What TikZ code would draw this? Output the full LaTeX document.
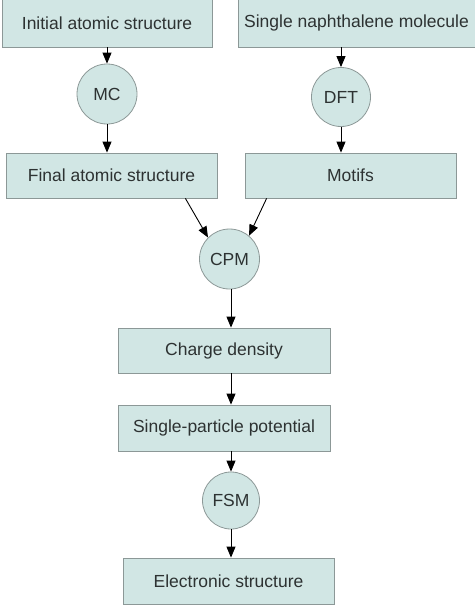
\documentclass[tikz,border=0pt]{standalone}
\usepackage{fontspec}
\setmainfont{Liberation Sans}
\usepackage{tikz}
\usetikzlibrary{arrows.meta}
\definecolor{boxfill}{RGB}{209,230,228}
\definecolor{boxline}{RGB}{140,152,151}
\definecolor{txt}{RGB}{45,50,50}

\begin{document}
\begin{tikzpicture}[x = 1pt, y = -1pt,
                        font = \fontsize{17.5}{20}\selectfont,
                        stepbox/.style = {rectangle, draw = boxline, fill = boxfill, text = txt, line width = 0.8pt, inner sep = 0pt},
                        method/.style = {circle, draw = boxline, fill = boxfill, text = txt, line width = 0.8pt, inner sep = 0pt},
                        arr/.style = {line width = 0.9pt, -{Triangle[length = 11pt, width = 9pt]}}]
    \useasboundingbox (0, 0) rectangle (474, 605);
    \node [stepbox, minimum width = 210pt, minimum height = 48pt] (init) at (107, 23){Initial atomic structure};
    \node [stepbox, minimum width = 237pt, minimum height = 48pt] (single) at (356.5, 23){Single naphthalene molecule};
    \node [method, minimum size = 60pt] (mc) at (107, 94){MC};
    \node [method, minimum size = 59pt] (dft) at (341, 97){DFT};
    \node [stepbox, minimum width = 211pt, minimum height = 45pt] (final) at (111.5, 175.5){Final atomic structure};
    \node [stepbox, minimum width = 211pt, minimum height = 45pt] (motifs) at (350.5, 175.5){Motifs};
    \node [method, minimum size = 60pt] (cpm) at (229.5, 259){CPM};
    \node [stepbox, minimum width = 212pt, minimum height = 45pt] (charge) at (224, 350.5){Charge density};
    \node [stepbox, minimum width = 212pt, minimum height = 46pt] (potential) at (224, 428){Single-particle potential};
    \node [method, minimum size = 57pt] (fsm) at (231, 500.5){FSM};
    \node [stepbox, minimum width = 211pt, minimum height = 46pt] (electronic) at (228.5, 581){Electronic structure};
    \draw [arr] (init.south -| mc)--(mc);
    \draw [arr] (single.south -| dft)--(dft);
    \draw [arr] (mc)--(mc |- final.north);
    \draw [arr] (dft)--(dft |- motifs.north);
    \draw [arr] ([xshift = -32pt]final.south east)--(cpm.135);
    \draw [arr] ([xshift = 22pt]motifs.south west)--(cpm.50);
    \draw [arr] (cpm.south -| fsm)--(charge.north -| fsm);
    \draw [arr] (charge.south -| fsm)--(potential.north -| fsm);
    \draw [arr] (potential.south -| fsm)--(fsm);
    \draw [arr] (fsm)--(fsm |- electronic.north);
  \end{tikzpicture}
\end{document}
